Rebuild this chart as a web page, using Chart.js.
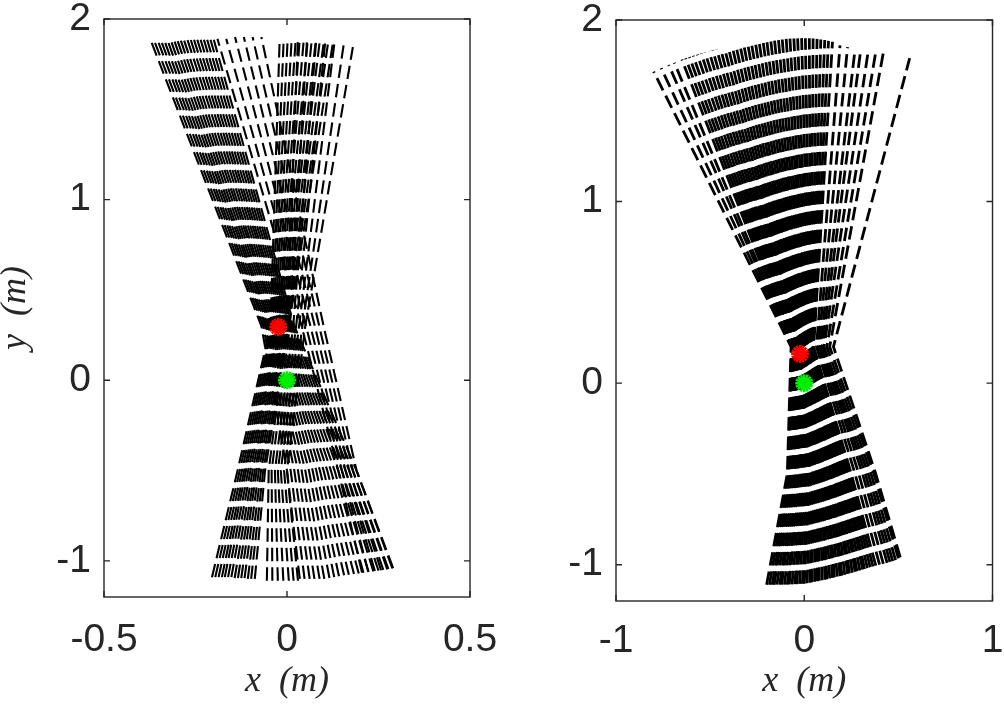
<!DOCTYPE html>
<html><head><meta charset="utf-8">
<script src="https://cdn.jsdelivr.net/npm/chart.js@4.4.1/dist/chart.umd.min.js"></script>
<style>
html,body{margin:0;padding:0;background:#fff;width:1004px;height:705px;overflow:hidden}
.wrap{position:absolute;top:0}
</style></head><body>
<div class="wrap" style="left:0;width:500px;height:705px"><canvas id="cL" width="500" height="705"></canvas></div>
<div class="wrap" style="left:500px;width:504px;height:705px"><canvas id="cR" width="504" height="705"></canvas></div>
<script>
// ---------- Left panel data (x in m, y in m) ----------
const leftXTicks = [-0.5, 0, 0.5];
const leftYTicks = [-1, 0, 1, 2];
const leftLowY = -0.5, leftWaistY = 0.3;
// group 1: bottom-left bundle -> top centre column
const L1_bottomX = [-0.205,-0.196,-0.187,-0.178,-0.17,-0.161,-0.152,-0.143,-0.134,-0.125,-0.116,-0.107,-0.098,-0.088];
const L1_bottomY = [-1.09,-1.09,-1.09,-1.09,-1.09,-1.09,-1.09,-1.095,-1.095,-1.095,-1.095,-1.1,-1.1,-1.1];
const L1_lowX = [-0.135,-0.129,-0.123,-0.117,-0.112,-0.106,-0.1,-0.094,-0.088,-0.083,-0.077,-0.071,-0.065,-0.06];
const L1_waistX = [-0.045,-0.041,-0.037,-0.033,-0.029,-0.025,-0.022,-0.018,-0.014,-0.01,-0.006,-0.002,0.002,0.005];
const L1_topX = [-0.02,-0.009,0.002,0.013,0.024,0.035,0.046,0.057,0.068,0.079,0.09,0.101,0.113,0.126];
const L1_topY = [1.89,1.89,1.895,1.895,1.895,1.895,1.89,1.89,1.89,1.885,1.885,1.88,1.88,1.875];
// group 2: bottom-right bundle -> top-left bundle
const L2_bottomX = [0.035,0.048,0.062,0.075,0.089,0.102,0.116,0.129,0.142,0.156,0.169,0.183,0.196,0.209,0.223,0.236,0.25,0.263,0.277,0.29];
const L2_bottomY = [-1.1,-1.1,-1.1,-1.1,-1.1,-1.1,-1.095,-1.09,-1.085,-1.08,-1.077,-1.073,-1.07,-1.066,-1.062,-1.058,-1.054,-1.05,-1.045,-1.04];
const L2_lowX = [0.0,0.01,0.02,0.03,0.04,0.05,0.06,0.07,0.08,0.09,0.1,0.11,0.12,0.13,0.14,0.15,0.16,0.17,0.18,0.19];
const L2_waistX = [-0.07,-0.065,-0.06,-0.056,-0.051,-0.046,-0.042,-0.037,-0.032,-0.027,-0.023,-0.018,-0.013,-0.008,-0.004,0.001,0.006,0.011,0.015,0.02];
const L2_topX = [-0.37,-0.361,-0.352,-0.343,-0.334,-0.326,-0.317,-0.308,-0.299,-0.29,-0.281,-0.272,-0.263,-0.254,-0.245,-0.236,-0.227,-0.218,-0.209,-0.2];
const L2_topY = [1.87,1.87,1.875,1.875,1.875,1.88,1.88,1.88,1.88,1.88,1.88,1.885,1.885,1.885,1.885,1.885,1.885,1.885,1.885,1.885];
// group 3: tilted right lines -> top middle
const L3_bottomX = [0.205,0.222,0.24,0.257,0.274,0.288];
const L3_bottomY = [-1.065,-1.06,-1.056,-1.052,-1.047,-1.042];
const L3_lowX = [0.14,0.15,0.16,0.17,0.18,0.19];
const L3_waistX = [0.04,0.052,0.064,0.076,0.088,0.1];
const L3_topX = [-0.19,-0.166,-0.142,-0.118,-0.094,-0.07];
const L3_topY = [1.89,1.89,1.9,1.9,1.9,1.9];
// group 4: bottom middle lines -> top right
const L4_bottomX = [-0.055,-0.04,-0.025,-0.01,0.005,0.018,0.03];
const L4_bottomY = [-1.11,-1.11,-1.11,-1.11,-1.11,-1.11,-1.11];
const L4_lowX = [-0.05,-0.042,-0.033,-0.025,-0.017,-0.008,0.0];
const L4_waistX = [0.0,0.008,0.017,0.025,0.033,0.042,0.05];
const L4_topX = [0.03,0.055,0.08,0.105,0.13,0.155,0.18];
const L4_topY = [1.9,1.895,1.89,1.885,1.875,1.86,1.845];
// markers: [red, green]
const leftMarkX = [-0.024, 0.0];
const leftMarkY = [0.295, 0.0];

// ---------- Right panel data ----------
const rightXTicks = [-1, 0, 1];
const rightYTicks = [-1, 0, 1, 2];
const rightLowY = -0.5, rightWaistY = 0.2;
const R1_bottomX = [-0.2,-0.185,-0.17,-0.16,-0.145,-0.13,-0.12,-0.105,-0.09,-0.08,-0.065,-0.05,-0.04,-0.025,-0.01,0.0,0.015,0.03,0.04,0.055,0.07,0.08,0.095,0.11,0.12,0.135,0.15,0.16,0.175,0.19,0.2,0.215,0.23,0.24,0.255,0.27,0.28,0.295,0.31,0.32,0.335,0.35,0.365,0.38];
const R1_bottomY = [-1.11,-1.11,-1.11,-1.11,-1.11,-1.11,-1.11,-1.11,-1.11,-1.108,-1.108,-1.107,-1.107,-1.106,-1.105,-1.105,-1.102,-1.099,-1.097,-1.094,-1.091,-1.089,-1.086,-1.083,-1.08,-1.076,-1.073,-1.07,-1.066,-1.063,-1.06,-1.056,-1.051,-1.048,-1.044,-1.039,-1.036,-1.032,-1.027,-1.024,-1.019,-1.014,-1.01,-1.005];
const R1_lowX = [-0.09,-0.082,-0.074,-0.066,-0.058,-0.05,-0.043,-0.035,-0.027,-0.019,-0.011,-0.003,0.005,0.013,0.021,0.029,0.036,0.044,0.052,0.06,0.068,0.076,0.084,0.092,0.1,0.108,0.115,0.123,0.131,0.139,0.147,0.155,0.163,0.171,0.179,0.187,0.194,0.202,0.21,0.218,0.226,0.234,0.242,0.25];
const R1_waistX = [-0.07,-0.067,-0.064,-0.062,-0.059,-0.056,-0.053,-0.05,-0.048,-0.045,-0.042,-0.039,-0.036,-0.034,-0.031,-0.028,-0.025,-0.023,-0.02,-0.017,-0.014,-0.011,-0.009,-0.006,-0.003,0.0,0.003,0.005,0.008,0.011,0.014,0.017,0.019,0.022,0.025,0.028,0.031,0.033,0.036,0.039,0.042,0.044,0.047,0.05];
const R1_topX = [-0.8,-0.76,-0.72,-0.69,-0.65,-0.63,-0.61,-0.59,-0.568,-0.547,-0.527,-0.506,-0.486,-0.465,-0.445,-0.424,-0.404,-0.383,-0.363,-0.342,-0.322,-0.301,-0.281,-0.26,-0.24,-0.219,-0.199,-0.178,-0.158,-0.137,-0.117,-0.096,-0.076,-0.055,-0.035,-0.014,0.006,0.027,0.047,0.068,0.088,0.109,0.129,0.15];
const R1_topY = [1.716,1.735,1.752,1.765,1.782,1.789,1.796,1.803,1.81,1.816,1.822,1.828,1.834,1.839,1.844,1.848,1.852,1.857,1.861,1.865,1.868,1.872,1.875,1.878,1.881,1.884,1.886,1.888,1.89,1.892,1.894,1.896,1.897,1.898,1.899,1.9,1.9,1.9,1.898,1.896,1.893,1.89,1.885,1.88];
const R2_bottomX = [0.4,0.42,0.44,0.455,0.47,0.485,0.5,0.51];
const R2_bottomY = [-1.0,-0.995,-0.99,-0.985,-0.98,-0.975,-0.965,-0.96];
const R2_lowX = [0.27,0.29,0.31,0.325,0.34,0.355,0.37,0.38];
const R2_waistX = [0.065,0.075,0.085,0.095,0.105,0.12,0.135,0.155];
const R2_topX = [0.19,0.23,0.27,0.3,0.34,0.38,0.42,0.56];
const R2_topY = [1.86,1.85,1.84,1.835,1.83,1.825,1.82,1.79];
const rightMarkX = [-0.022, 0.0];
const rightMarkY = [0.16, 0.0];

// ---------- drawing ----------
const INK = '#262626';
const SANS = '"Liberation Sans", Arial, Helvetica, sans-serif';
const SERIF = '"Liberation Serif", "Times New Roman", serif';

function lineDatasets(groups, lowY, waistY, width) {
  const out = [];
  groups.forEach(g => {
    for (let i = 0; i < g[0].length; i++) {
      out.push({
        data: [{x: g[0][i], y: g[1][i]}, {x: g[2][i], y: lowY}, {x: g[3][i], y: waistY}, {x: g[4][i], y: g[5][i]}],
        showLine: true, borderColor: '#000', borderWidth: width, borderDash: [13.5, 6],
        pointRadius: 0, pointHoverRadius: 0, tension: 0, fill: false, order: 5
      });
    }
  });
  return out;
}
function markerDatasets(mx, my) {
  const cols = ['#ff0000', '#00ee00'];
  const out = [];
  mx.forEach((x, i) => {
    const pt = [{x: x, y: my[i]}];
    out.push({data: pt, pointStyle: 'circle', pointRadius: 6, backgroundColor: cols[i], borderColor: cols[i], borderWidth: 0, order: 0});
    out.push({data: pt, pointStyle: 'star', pointRadius: 9, borderColor: cols[i], borderWidth: 2.5, order: 0});
    out.push({data: pt, pointStyle: 'star', pointRadius: 9, rotation: 22.5, borderColor: cols[i], borderWidth: 2.5, order: 0});
  });
  return out;
}
const boxPlugin = {
  id: 'box',
  afterDraw(chart) {
    const {ctx, chartArea: a, scales: {x, y}} = chart;
    ctx.save();
    ctx.strokeStyle = INK; ctx.lineWidth = 1.4; ctx.setLineDash([]);
    ctx.strokeRect(a.left, a.top, a.right - a.left, a.bottom - a.top);
    const L = 6;
    ctx.beginPath();
    x.ticks.forEach(t => { const p = x.getPixelForValue(t.value);
      ctx.moveTo(p, a.bottom); ctx.lineTo(p, a.bottom - L); ctx.moveTo(p, a.top); ctx.lineTo(p, a.top + L); });
    y.ticks.forEach(t => { const p = y.getPixelForValue(t.value);
      ctx.moveTo(a.left, p); ctx.lineTo(a.left + L, p); ctx.moveTo(a.right, p); ctx.lineTo(a.right - L, p); });
    ctx.stroke(); ctx.restore();
  }
};
function makeChart(id, p) {
  const datasets = markerDatasets(p.mx, p.my).concat(lineDatasets(p.groups, p.lowY, p.waistY, p.lineW));
  return new Chart(document.getElementById(id), {
    type: 'scatter',
    data: {datasets},
    options: {
      responsive: false, animation: false, events: [],
      layout: {padding: {left: 0, right: p.padRight, top: p.padTop, bottom: 0}},
      plugins: {legend: {display: false}, tooltip: {enabled: false}},
      scales: {
        x: {type: 'linear', position: 'bottom', min: p.xMin, max: p.xMax,
          afterFit: s => { s.height = p.xAxisH; s.paddingLeft = 0; s.paddingRight = 0; s.paddingTop = 0; s.paddingBottom = 0; },
          afterBuildTicks: s => { s.ticks = p.xTicks.map(v => ({value: v})); },
          grid: {display: false, drawTicks: false}, border: {display: false},
          ticks: {padding: p.xPad, color: INK, font: {family: SANS, size: 39}, maxRotation: 0, autoSkip: false, callback: v => String(v)},
          title: {display: true, text: 'x  (m)', color: INK, font: {family: SERIF, size: 36, style: 'italic'}, padding: {top: 0, bottom: 2}}
        },
        y: {type: 'linear', position: 'left', min: -1.2, max: 2,
          afterFit: s => { s.width = p.yAxisW; s.paddingLeft = 0; s.paddingRight = 0; s.paddingTop = 0; s.paddingBottom = 0; },
          afterBuildTicks: s => { s.ticks = p.yTicks.map(v => ({value: v})); },
          grid: {display: false, drawTicks: false}, border: {display: false},
          ticks: {padding: 13, color: INK, font: {family: SANS, size: 39}, autoSkip: false, callback: v => String(v)},
          title: {display: p.yTitle, text: 'y  (m)', color: INK, font: {family: SERIF, size: 36, style: 'italic', lineHeight: 0.85}, padding: {top: 0, bottom: 0}}
        }
      }
    },
    plugins: [boxPlugin]
  });
}
makeChart('cL', {
  xMin: -0.5, xMax: 0.5, xTicks: leftXTicks, yTicks: leftYTicks,
  padTop: 19, padRight: 30, xAxisH: 108, yAxisW: 104, xPad: 20, yTitle: true, lineW: 2.1,
  lowY: leftLowY, waistY: leftWaistY, mx: leftMarkX, my: leftMarkY,
  groups: [
    [L1_bottomX, L1_bottomY, L1_lowX, L1_waistX, L1_topX, L1_topY],
    [L2_bottomX, L2_bottomY, L2_lowX, L2_waistX, L2_topX, L2_topY],
    [L3_bottomX, L3_bottomY, L3_lowX, L3_waistX, L3_topX, L3_topY],
    [L4_bottomX, L4_bottomY, L4_lowX, L4_waistX, L4_topX, L4_topY]
  ]
});
makeChart('cR', {
  xMin: -1, xMax: 1, xTicks: rightXTicks, yTicks: rightYTicks,
  padTop: 20, padRight: 7, xAxisH: 104, yAxisW: 116, xPad: 17, yTitle: false, lineW: 2.8,
  lowY: rightLowY, waistY: rightWaistY, mx: rightMarkX, my: rightMarkY,
  groups: [
    [R1_bottomX, R1_bottomY, R1_lowX, R1_waistX, R1_topX, R1_topY],
    [R2_bottomX, R2_bottomY, R2_lowX, R2_waistX, R2_topX, R2_topY]
  ]
});
</script></body></html>
